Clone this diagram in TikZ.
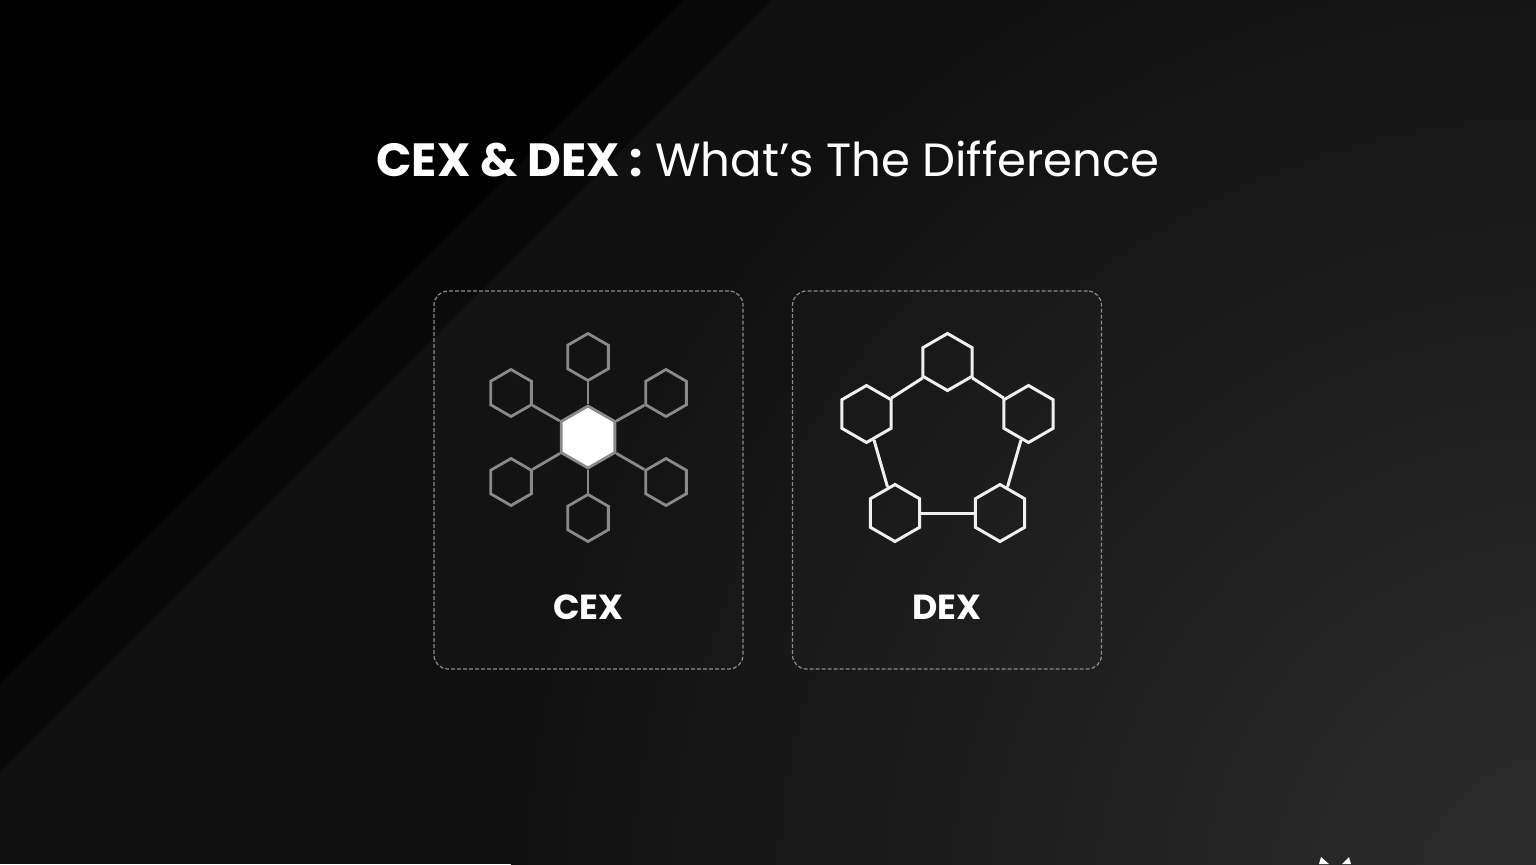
\documentclass[tikz,border=0pt]{standalone}
\usepackage{fontspec}
\setmainfont{Poppins}
\usepackage{tikz}
\usetikzlibrary{positioning, shapes.geometric}

\definecolor{bgmid}{HTML}{101010}
\definecolor{bglight}{HTML}{2E2E2E}
\definecolor{bandgray}{HTML}{080808}
\definecolor{hexgray}{HTML}{8A8A8A}
\definecolor{dashgray}{HTML}{8C8C8C}

\begin{document}
\begin{tikzpicture}[x=0.5pt, y=-0.5pt,
  card/.style={draw=dashgray, line width=0.6pt, dash pattern=on 2pt off 1pt, rounded corners=7pt, fill=white, fill opacity=0.015, minimum width=154.5pt, minimum height=189pt},
  hexnode/.style={regular polygon, regular polygon sides=6, shape border rotate=30, inner sep=0pt, minimum size=23.5pt, draw=hexgray, line width=1.4pt},
  bighex/.style={hexnode, minimum size=31pt, fill=white},
  dexhex/.style={hexnode, minimum size=28.5pt, draw=white!94!black, line width=1.5pt},
  lbl/.style={text=white, inner sep=0pt, font=\fontsize{17.4}{20}\selectfont\bfseries},
  every node/.style={text=white}]

  % background
  \useasboundingbox (0,0) rectangle (1536,864);
  \fill[bgmid] (0,0) rectangle (1536,864);
  \begin{scope}
    \clip (0,0) rectangle (1536,864);
    \shade[inner color=bglight, outer color=bgmid] (1570,910) circle (1060);
  \end{scope}
  \fill[bandgray] (0,0) -- (772,0) -- (0,772) -- cycle;
  \fill[black] (0,0) -- (683,0) -- (0,683) -- cycle;

  \node[anchor=base, inner sep=0pt, font=\fontsize{23.3}{28}\selectfont] (ttl) at (768,176) {\textbf{CEX \& DEX :} What’s The Difference};

  \node[card] (cex) at (588.5,480) {};
  \node[card] (dex) at (947,480) {};
  \node[lbl] (cexlbl) [above = 25pt of cex.south] {CEX};
  \node[lbl] (dexlbl) [above = 25pt of dex.south] {DEX};

  % CEX: hub and spokes
  \node[bighex] (c) at (588,437) {};
  \node[hexnode] (t) at (588,357) {};
  \node[hexnode] (b) at (588,518) {};
  \node[hexnode] (ul) at (511,393) {};
  \node[hexnode] (ur) at (666,393) {};
  \node[hexnode] (ll) at (511,482) {};
  \node[hexnode] (lr) at (666,482) {};

  \path[draw=hexgray, line width=1.4pt]
    (c) edge (t)
    (c) edge (b)
    (c) edge (ul)
    (c) edge (ur)
    (c) edge (ll)
    (c) edge (lr)
  ;

  % DEX: ring
  \node[dexhex] (d1) at (947.5,362) {};
  \node[dexhex] (d2) at (1028.5,414) {};
  \node[dexhex] (d3) at (1000,513) {};
  \node[dexhex] (d4) at (895,513) {};
  \node[dexhex] (d5) at (866.5,414) {};

  \path[draw=white!94!black, line width=1.5pt]
    (d1) edge (d2)
    (d2) edge (d3)
    (d3) edge (d4)
    (d4) edge (d5)
    (d5) edge (d1)
  ;

  % corner mark
  \fill[white] (1319,864) -- (1321,857) -- (1329,864) -- cycle;
  \fill[white] (1342,864) -- (1349,857) -- (1351,864) -- cycle;
\end{tikzpicture}
\end{document}
